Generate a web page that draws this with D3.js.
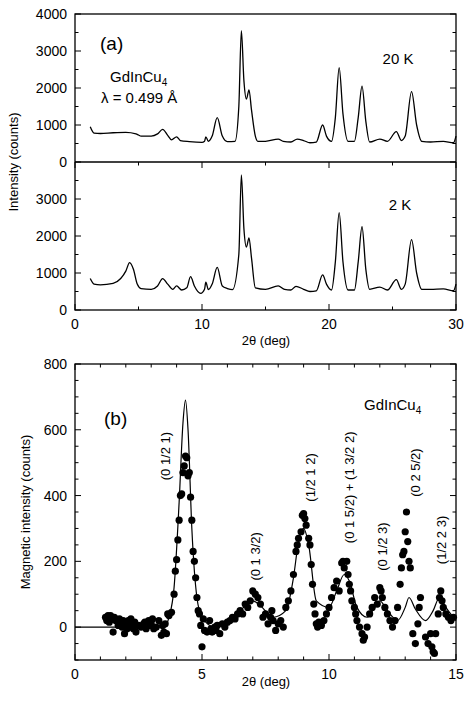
<!DOCTYPE html><html><head><meta charset="utf-8"><script src="https://d3js.org/d3.v7.min.js"></script>
<style>body{margin:0;background:#fff}text{font-family:"Liberation Sans",Arial,sans-serif;fill:#000}</style></head><body>
<svg id="c" width="474" height="706"></svg>
<script>
const xr20K=[1.2,1.5,2,3,4,4.8,5,5.2,6,6.5,6.9,7.3,7.6,8,8.3,9,10,10.2,10.3,10.5,10.8,11.2,11.6,12,12.6,12.9,13.1,13.3,13.5,13.7,13.9,14.2,14.4,15,16,16.4,17,17.5,18,18.5,19,19.5,19.8,20.2,20.5,20.8,21.1,21.5,22,22.3,22.6,22.9,23.2,24,24.6,25.3,25.7,26,26.5,26.9,27.3,28,29,29.8,30];
const y20K=[950,780,770,790,800,760,730,700,700,760,880,720,600,680,580,550,530,560,680,560,700,1200,700,550,560,1500,3550,2200,1700,1950,1400,700,560,560,620,560,540,620,580,520,540,1000,700,560,1200,2550,1300,560,560,1200,2050,1100,540,620,560,820,580,700,1900,1000,560,540,560,520,700];
const x2K=[1.2,1.5,2,3,3.6,4,4.3,4.6,4.9,5.2,6,6.5,6.9,7.3,7.7,8,8.4,8.8,9.1,9.4,9.9,10.2,10.3,10.5,10.8,11.2,11.6,12,12.4,12.9,13.1,13.3,13.5,13.7,13.9,14.2,15,16,16.5,17,17.4,18,18.5,19,19.5,19.8,20.2,20.5,20.8,21.1,21.5,22,22.3,22.6,22.9,23.2,24,24.6,25.3,25.7,26,26.5,26.9,27.3,28,29,29.8,30];
const y2K=[850,700,680,720,850,1050,1280,1100,700,580,560,650,850,700,560,650,540,600,900,650,450,560,750,550,700,1150,650,580,550,1500,3650,2200,1700,1950,1400,600,560,650,560,540,640,560,500,520,950,700,540,1300,2630,1300,540,540,1300,2250,1100,560,620,540,820,560,700,1900,1000,560,560,570,520,700];
const fitX=[0,3.5,3.7,3.9,4.1,4.25,4.35,4.45,4.6,4.8,5,5.5,6,6.5,7,7.3,7.8,8.3,8.6,8.8,9,9.2,9.5,10,10.3,10.6,10.8,11.1,11.5,11.8,12,12.3,12.7,13,13.15,13.4,13.8,14.1,14.35,14.6,15];
const fitY=[0,0,30,120,380,620,690,600,300,90,30,0,20,50,80,65,30,50,150,260,300,250,80,60,110,160,140,60,30,60,80,50,20,60,90,55,20,50,90,60,20];
const obsX=[1.2,1.25,1.3,1.35,1.4,1.45,1.5,1.55,1.6,1.7,1.75,1.8,1.85,1.9,1.95,2.0,2.05,2.1,2.15,2.2,2.25,2.3,2.35,2.4,2.5,2.6,2.7,2.75,2.8,2.9,2.95,3.0,3.05,3.1,3.2,3.3,3.4,3.45,3.5,3.55,3.6,3.65,3.7,3.8,3.9,3.95,4.0,4.05,4.1,4.15,4.2,4.25,4.3,4.35,4.4,4.45,4.5,4.55,4.6,4.65,4.7,4.75,4.8,4.85,4.9,4.95,5.0,5.05,5.1,5.2,5.3,5.35,5.4,5.5,5.55,5.6,5.7,5.8,5.9,6.0,6.1,6.2,6.3,6.4,6.5,6.6,6.7,6.8,6.9,7.0,7.1,7.2,7.3,7.4,7.5,7.6,7.7,7.75,7.8,7.9,8.0,8.1,8.2,8.3,8.4,8.5,8.6,8.7,8.75,8.8,8.9,8.95,9.0,9.05,9.1,9.2,9.25,9.3,9.35,9.4,9.45,9.5,9.55,9.6,9.7,9.8,9.9,10.0,10.1,10.2,10.3,10.4,10.5,10.55,10.6,10.7,10.75,10.8,10.85,10.9,11.0,11.05,11.1,11.2,11.3,11.35,11.4,11.5,11.6,11.7,11.8,11.9,12.0,12.05,12.1,12.2,12.3,12.4,12.5,12.6,12.7,12.8,12.85,12.9,12.95,13.0,13.05,13.1,13.15,13.2,13.3,13.4,13.5,13.55,13.6,13.8,13.9,14.0,14.05,14.1,14.15,14.2,14.3,14.35,14.4,14.45,14.5,14.6,14.7,14.8,14.9];
const obsY=[30,20,35,15,35,25,-15,30,20,5,25,15,0,20,-20,10,-5,20,0,25,10,-5,15,-15,5,0,10,15,-5,20,5,10,25,-5,0,20,-25,5,-15,10,-20,40,35,45,100,170,205,265,325,400,405,470,490,520,515,460,470,395,325,230,200,150,90,50,40,5,-60,25,-10,-15,20,-5,-15,0,-10,5,-20,10,0,15,20,30,25,40,50,40,70,60,80,110,100,90,70,30,40,10,30,50,20,-10,10,20,0,60,80,110,160,230,250,270,290,340,345,330,310,270,250,190,130,70,40,10,0,15,5,20,40,60,90,120,140,110,195,200,180,200,160,130,110,80,60,40,20,0,-20,-40,-30,0,40,60,90,70,120,110,90,60,40,20,0,20,60,130,180,220,230,290,350,260,200,180,-20,-50,10,60,90,-30,-50,-20,-60,-75,-80,-20,40,90,110,80,60,40,30,20,30];
const peakLabels=["(0 1/2 1)","(0 1 3/2)","(1/2 1 2)","(0 1 5/2) + (1 3/2 2)","(0 1/2 3)","(0 2 5/2)","(1/2 2 3)"];
const peakLabelX=[3.55,7.1,9.25,10.8,12.1,13.4,14.4];
const peakLabelY=[520,215,455,425,245,470,265];

const svg=d3.select("#c");
const L=75,R=456;
function frame(g,x,y,top,bot){g.append("rect").attr("x",L).attr("y",top).attr("width",R-L).attr("height",bot-top).attr("fill","none").attr("stroke","#000").attr("stroke-width",1.3);}
function ticks(x,y,top,bot,xMaj,xMin,yMaj,yMin,showX){
  const g=svg.append("g");
  xMin.forEach(v=>{const len=xMaj.includes(v)?6:3.5;g.append("line").attr("x1",x(v)).attr("x2",x(v)).attr("y1",bot).attr("y2",bot-len);g.append("line").attr("x1",x(v)).attr("x2",x(v)).attr("y1",top).attr("y2",top+len);});
  yMin.forEach(v=>{const len=yMaj.includes(v)?6:3.5;g.append("line").attr("y1",y(v)).attr("y2",y(v)).attr("x1",L).attr("x2",L+len);g.append("line").attr("y1",y(v)).attr("y2",y(v)).attr("x1",R).attr("x2",R-len);});
  g.selectAll("line").attr("stroke","#000").attr("stroke-width",1);
  yMaj.forEach(v=>g.append("text").attr("x",L-8).attr("y",y(v)+5).attr("text-anchor","end").attr("font-size",14).text(v));
  if(showX) xMaj.forEach(v=>g.append("text").attr("x",x(v)).attr("y",bot+19).attr("text-anchor","middle").attr("font-size",14).text(v));
}
// panel a
const xa=d3.scaleLinear().domain([0,30]).range([L,R]);
const ya1=d3.scaleLinear().domain([0,4000]).range([162,14]);
const ya2=d3.scaleLinear().domain([0,4000]).range([310,162]);
const line=(xs,ys,x,y)=>d3.line().x((d,i)=>x(xs[i])).y((d,i)=>y(ys[i])).curve(d3.curveMonotoneX)(xs);
svg.append("path").attr("d",line(xr20K,y20K,xa,ya1)).attr("fill","none").attr("stroke","#000").attr("stroke-width",1.3);
svg.append("path").attr("d",line(x2K,y2K,xa,ya2)).attr("fill","none").attr("stroke","#000").attr("stroke-width",1.3);
frame(svg,xa,ya1,14,310);
svg.append("line").attr("x1",L).attr("x2",R).attr("y1",162).attr("y2",162).attr("stroke","#000").attr("stroke-width",1.6);
const xt=[0,5,10,15,20,25,30];
ticks(xa,ya1,14,162,[],[],[0,1000,2000,3000,4000],d3.range(0,4001,500),false);
ticks(xa,ya2,162,310,[0,10,20,30],xt,[0,1000,2000,3000],d3.range(0,3501,500),true);
svg.append("text").attr("x",100).attr("y",50).attr("font-size",19).text("(a)");
const t=svg.append("text").attr("x",110).attr("y",82).attr("font-size",15).text("GdInCu");t.append("tspan").attr("font-size",10).attr("dy",4).text("4");
svg.append("text").attr("x",101).attr("y",103).attr("font-size",15).text("λ = 0.499 Å");
svg.append("text").attr("x",398).attr("y",64).attr("font-size",15).attr("text-anchor","middle").text("20 K");
svg.append("text").attr("x",400).attr("y",210).attr("font-size",15).attr("text-anchor","middle").text("2 K");
svg.append("text").attr("transform","translate(18,162) rotate(-90)").attr("text-anchor","middle").attr("font-size",13).text("Intensity (counts)");
svg.append("text").attr("x",266).attr("y",345).attr("text-anchor","middle").attr("font-size",13).text("2θ (deg)");
// panel b
const xb=d3.scaleLinear().domain([0,15]).range([L,R]);
const yb=d3.scaleLinear().domain([-100,800]).range([660,364]);
svg.append("path").attr("d",d3.line().x((d,i)=>xb(fitX[i])).y((d,i)=>yb(fitY[i])).curve(d3.curveMonotoneX)(fitX)).attr("fill","none").attr("stroke","#000").attr("stroke-width",1.2);
svg.append("g").selectAll("circle").data(obsX).join("circle").attr("cx",d=>xb(d)).attr("cy",(d,i)=>yb(obsY[i])).attr("r",3.6).attr("fill","#000");
frame(svg,xb,yb,364,660);
ticks(xb,yb,364,660,[0,5,10,15],d3.range(0,16,1),[0,200,400,600,800],d3.range(-100,801,50),true);
svg.append("text").attr("x",104).attr("y",425).attr("font-size",19).text("(b)");
const t2=svg.append("text").attr("x",364).attr("y",410).attr("font-size",15).text("GdInCu");t2.append("tspan").attr("font-size",10).attr("dy",4).text("4");
peakLabels.forEach((s,i)=>svg.append("text").attr("transform",`translate(${xb(peakLabelX[i])+5},${yb(peakLabelY[i])}) rotate(-90)`).attr("text-anchor","middle").attr("font-size",13).text(s));
svg.append("text").attr("transform","translate(30,512) rotate(-90)").attr("text-anchor","middle").attr("font-size",13).text("Magnetic intensity (counts)");
svg.append("text").attr("x",266).attr("y",686).attr("text-anchor","middle").attr("font-size",13).text("2θ (deg)");
</script></body></html>
